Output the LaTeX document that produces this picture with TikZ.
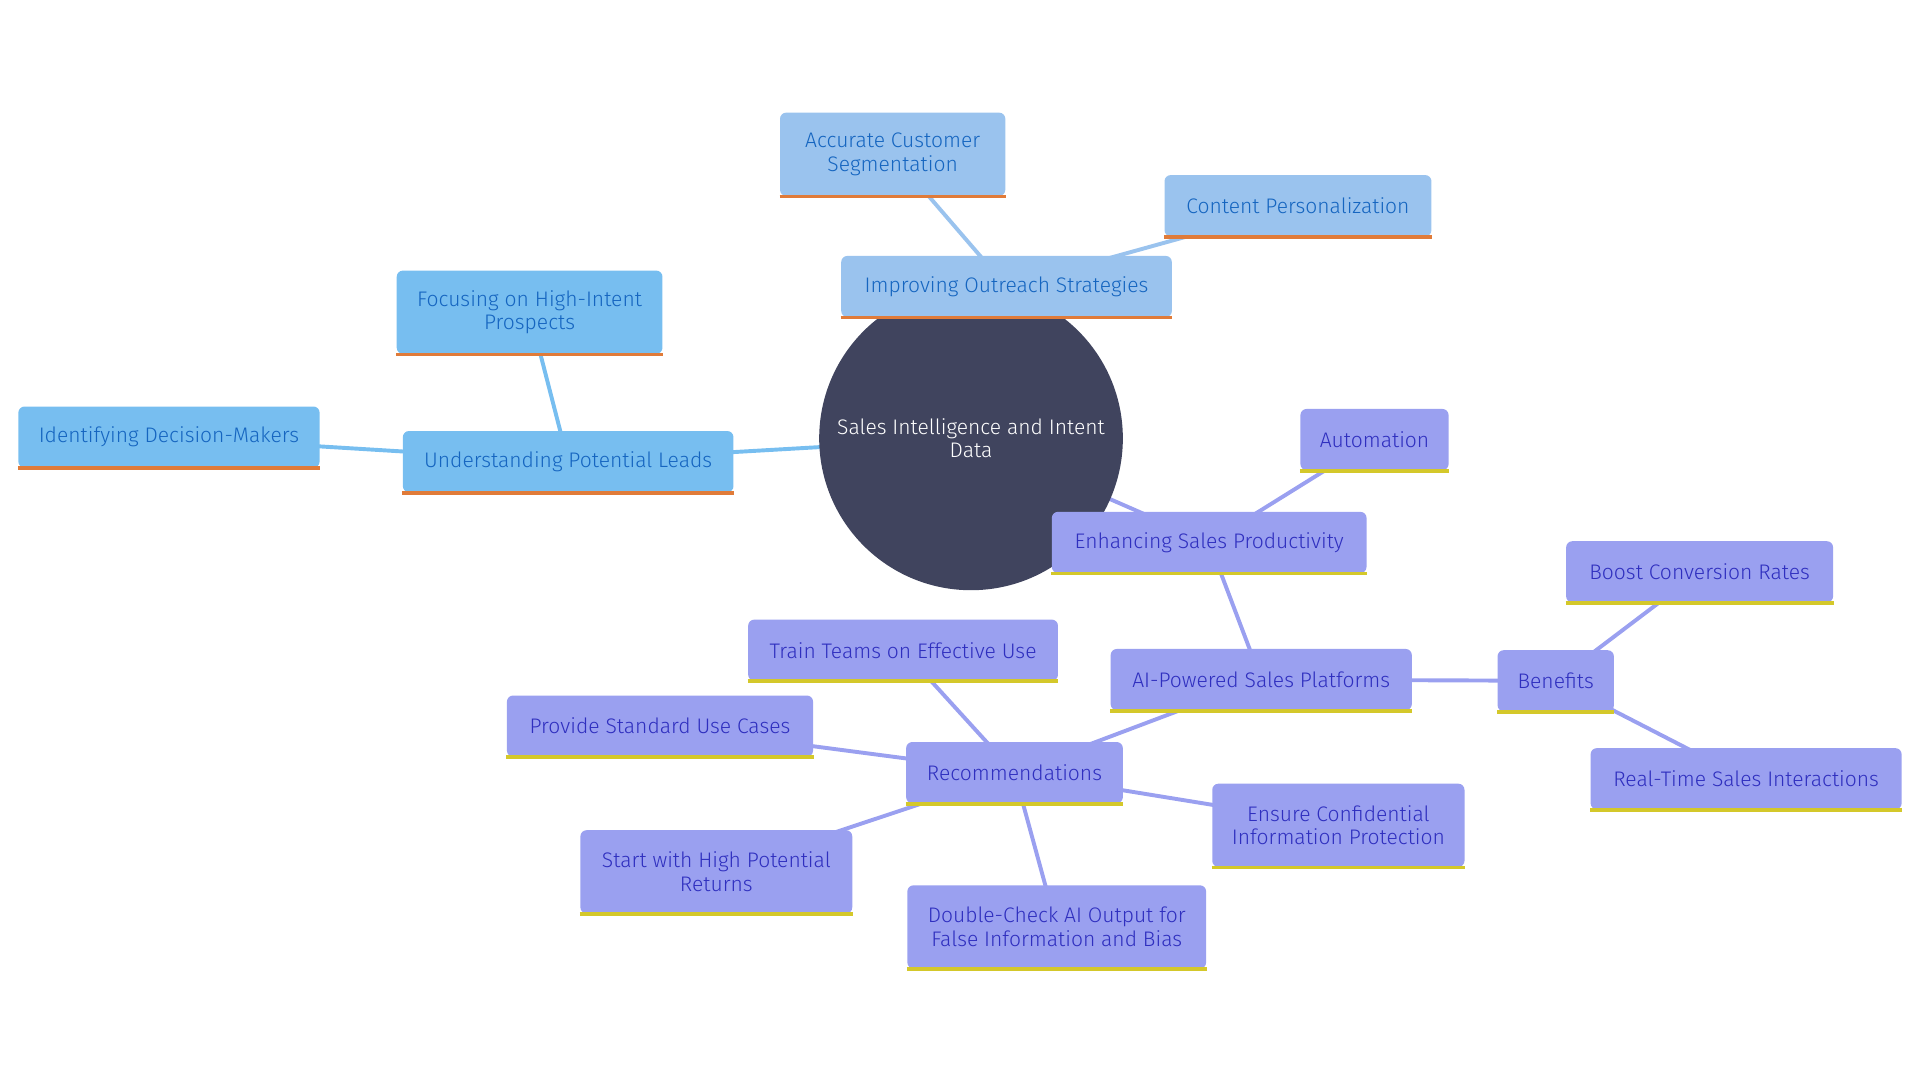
\documentclass[tikz,border=0pt]{standalone}
\usepackage{fontspec}
\setmainfont{Fira Sans}[UprightFont=* Light]
\usetikzlibrary{backgrounds}
\definecolor{bA}{HTML}{77BEF0}
\definecolor{bB}{HTML}{9AC3EE}
\definecolor{pC}{HTML}{9AA0F0}
\definecolor{tB}{HTML}{1565C0}
\definecolor{tP}{HTML}{2F2FBF}
\definecolor{lO}{HTML}{E07B39}
\definecolor{lY}{HTML}{D4C82A}
\definecolor{cen}{HTML}{40445E}
\tikzset{
  boxA/.style={fill=bA,text=tB},
  boxB/.style={fill=bB,text=tB},
  boxP/.style={fill=pC,text=tP},
  edgeA/.style={draw=bA,line width=1.6pt},
  edgeB/.style={draw=bB,line width=1.6pt},
  edgeP/.style={draw=pC,line width=1.6pt},
  lineO/.style={draw=lO,line width=1.5pt},
  lineY/.style={draw=lY,line width=1.5pt},
}
\newcommand\mmbox[8]{%
  \node[#6,rounded corners=2.5pt,inner sep=0pt,align=center,font=\fontsize{8.6}{9.6}\selectfont,
    minimum width={(#4-#2)*0.5pt},minimum height={(#5-#3)*0.5pt}] (#1) at ({(#2+#4)/2},{(#3+#5)/2}) {#8};
  \draw[#7] (#1.south west) -- (#1.south east);}
\begin{document}
\begin{tikzpicture}[x=0.5pt,y=-0.5pt]
\useasboundingbox (0,0) rectangle (1568,882);
\node[circle,fill=cen,minimum size=124pt,inner sep=0pt,text=white,align=center,font=\fontsize{8.6}{9.6}\selectfont] (c) at (793,358) {Sales Intelligence and Intent\\Data};
\mmbox{acs}{637}{92}{821}{160}{boxB}{lineO}{Accurate Customer\\Segmentation}
\mmbox{cp}{951}{143}{1169}{193}{boxB}{lineO}{Content Personalization}
\mmbox{ios}{687}{209}{957}{259}{boxB}{lineO}{Improving Outreach Strategies}
\mmbox{fhi}{324}{221}{541}{289}{boxA}{lineO}{Focusing on High-Intent\\Prospects}
\mmbox{idm}{15}{332}{261}{382}{boxA}{lineO}{Identifying Decision-Makers}
\mmbox{upl}{329}{352}{599}{402}{boxA}{lineO}{Understanding Potential Leads}
\mmbox{aut}{1062}{334}{1183}{384}{boxP}{lineY}{Automation}
\mmbox{esp}{859}{418}{1116}{468}{boxP}{lineY}{Enhancing Sales Productivity}
\mmbox{bcr}{1279}{442}{1497}{492}{boxP}{lineY}{Boost Conversion Rates}
\mmbox{ai}{907}{530}{1153}{580}{boxP}{lineY}{AI-Powered Sales Platforms}
\mmbox{ben}{1223}{531}{1318}{581}{boxP}{lineY}{Benefits}
\mmbox{rts}{1299}{611}{1553}{661}{boxP}{lineY}{Real-Time Sales Interactions}
\mmbox{tt}{611}{506}{864}{556}{boxP}{lineY}{Train Teams on Effective Use}
\mmbox{psu}{414}{568}{664}{618}{boxP}{lineY}{Provide Standard Use Cases}
\mmbox{rec}{740}{606}{917}{656}{boxP}{lineY}{Recommendations}
\mmbox{eci}{990}{640}{1196}{708}{boxP}{lineY}{Ensure Confidential\\Information Protection}
\mmbox{shp}{474}{678}{696}{746}{boxP}{lineY}{Start with High Potential\\Returns}
\mmbox{dca}{741}{723}{985}{791}{boxP}{lineY}{Double-Check AI Output for\\False Information and Bias}
\begin{scope}[on background layer]
\draw[edgeA] (c.center) -- (upl.center);
\draw[edgeA] (upl.center) -- (idm.center);
\draw[edgeA] (upl.center) -- (fhi.center);
\draw[edgeB] (c.center) -- (ios.center);
\draw[edgeB] (ios.center) -- (acs.center);
\draw[edgeB] (ios.center) -- (cp.center);
\draw[edgeP] (c.center) -- (esp.center);
\draw[edgeP] (esp.center) -- (aut.center);
\draw[edgeP] (esp.center) -- (ai.center);
\draw[edgeP] (ai.center) -- (ben.center);
\draw[edgeP] (ben.center) -- (bcr.center);
\draw[edgeP] (ben.center) -- (rts.center);
\draw[edgeP] (ai.center) -- (rec.center);
\draw[edgeP] (rec.center) -- (tt.center);
\draw[edgeP] (rec.center) -- (psu.center);
\draw[edgeP] (rec.center) -- (eci.center);
\draw[edgeP] (rec.center) -- (shp.center);
\draw[edgeP] (rec.center) -- (dca.center);
\end{scope}
\end{tikzpicture}
\end{document}
